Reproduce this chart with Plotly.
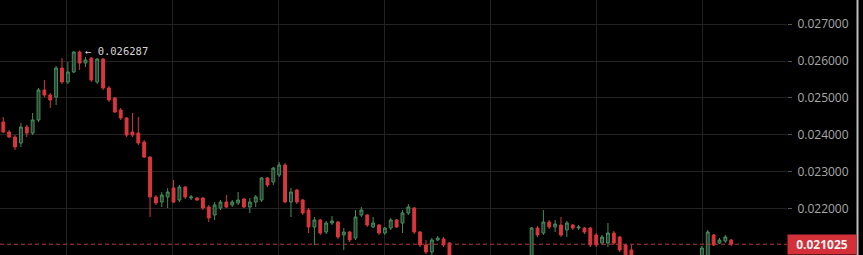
import plotly.graph_objects as go

# Candle OHLC values (None = candle lies below the visible area)
opens = [0.024345, 0.024074, 0.023938, 0.023775, 0.024210, 0.024046, 0.024400, 0.025215, 0.025079, 0.025024,
         0.025812, 0.025432, 0.025704, 0.026247, 0.025948, 0.026084, 0.025432, 0.026057, 0.025269, 0.024997,
         0.024671, 0.024454, 0.024074, 0.024046, 0.023802, 0.023394, 0.022308, 0.022172, 0.022308, 0.022552,
         0.022226, 0.022579, 0.022280, 0.022280, 0.022280, 0.022036, 0.021818, 0.022009, 0.022172, 0.022090,
         0.022145, 0.022253, 0.022036, 0.022172, 0.022226, 0.022824, 0.022715, 0.022905, 0.023177, 0.022172,
         0.022498, 0.022226, 0.021954, 0.021493, 0.021683, 0.021357, 0.021601, 0.021628, 0.021275, 0.021357,
         0.021194, 0.021818, 0.021818, 0.021493, 0.021547, 0.021330, 0.021465, 0.021683, 0.021601, 0.021873,
         0.022009, 0.021357, 0.021004, 0.020813, 0.021139, 0.021167, 0.021058,
         None, None, None, None, None, None, None, None, None, None, None, None, None,
         0.020541, 0.021465, 0.021330, 0.021628, 0.021493, 0.021547, 0.021411, 0.021547, 0.021465, 0.021465,
         0.021465, 0.021275, 0.021058, 0.021058, 0.021330, 0.021221, 0.021004, 0.020868,
         None, None, None, None, None, None, None, None, None, None, None,
         0.020460, 0.020704, 0.021275, 0.021058, 0.021112, 0.021139]
highs = [0.024481, 0.024128, 0.023992, 0.024318, 0.024264, 0.024590, 0.025269, 0.025486, 0.025133, 0.025867,
         0.026084, 0.025975, 0.026270, 0.026287, 0.026111, 0.026100, 0.026084, 0.026084, 0.025323, 0.025024,
         0.024726, 0.024481, 0.024590, 0.024481, 0.023856, 0.023410, 0.022362, 0.022443, 0.022552, 0.022769,
         0.022634, 0.022606, 0.022362, 0.022308, 0.022308, 0.022090, 0.022172, 0.022226, 0.022362, 0.022226,
         0.022443, 0.022280, 0.022280, 0.022362, 0.022851, 0.022851, 0.023123, 0.023259, 0.023231, 0.022552,
         0.022525, 0.022253, 0.022009, 0.021764, 0.021710, 0.021656, 0.021791, 0.021656, 0.021465, 0.021384,
         0.021954, 0.022036, 0.021846, 0.021764, 0.021574, 0.021493, 0.021737, 0.021710, 0.021954, 0.022117,
         0.022036, 0.021384, 0.021139, 0.021194, 0.021248, 0.021221, 0.021085,
         None, None, None, None, None, None, None, None, None, None, None, None, None,
         0.021493, 0.021520, 0.021954, 0.021683, 0.021683, 0.021764, 0.021656, 0.021574, 0.021547, 0.021493,
         0.021493, 0.021330, 0.021275, 0.021601, 0.021384, 0.021248, 0.021031, 0.021004,
         None, None, None, None, None, None, None, None, None, None, None,
         0.020976, 0.021411, 0.021302, 0.021194, 0.021275, 0.021167]
lows = [0.024046, 0.023910, 0.023585, 0.023666, 0.023938, 0.023992, 0.024345, 0.025024, 0.024726, 0.024807,
        0.025378, 0.025378, 0.025677, 0.025758, 0.025840, 0.025432, 0.025378, 0.025215, 0.024889, 0.024590,
        0.024400, 0.023938, 0.023938, 0.023720, 0.023367, 0.021764, 0.022090, 0.022036, 0.022009, 0.022145,
        0.022172, 0.022253, 0.022226, 0.022199, 0.021954, 0.021628, 0.021683, 0.021954, 0.022009, 0.022036,
        0.022090, 0.022009, 0.021873, 0.022036, 0.022172, 0.022579, 0.022634, 0.022851, 0.022145, 0.021764,
        0.022117, 0.021818, 0.021330, 0.021004, 0.021275, 0.021302, 0.021547, 0.021167, 0.020868, 0.021085,
        0.021139, 0.021764, 0.021493, 0.021465, 0.021275, 0.021275, 0.021411, 0.021465, 0.021330, 0.021818,
        0.021302, 0.020949, 0.020759, 0.020732, 0.021112, 0.020949, 0.020541,
        None, None, None, None, None, None, None, None, None, None, None, None, None,
        0.020460, 0.021221, 0.021275, 0.021438, 0.021357, 0.021221, 0.021221, 0.021411, 0.021411, 0.021302,
        0.020949, 0.020949, 0.021004, 0.020949, 0.021004, 0.020813, 0.020596, 0.020378,
        None, None, None, None, None, None, None, None, None, None, None,
        0.020378, 0.020650, 0.020976, 0.021031, 0.021058, 0.020976]
closes = [0.024074, 0.023938, 0.023666, 0.024210, 0.024046, 0.024400, 0.025215, 0.025079, 0.024943, 0.025812,
          0.025432, 0.025704, 0.026247, 0.025948, 0.026030, 0.025486, 0.026057, 0.025269, 0.024943, 0.024617,
          0.024454, 0.023992, 0.023992, 0.023775, 0.023394, 0.022308, 0.022145, 0.022362, 0.022443, 0.022172,
          0.022579, 0.022308, 0.022308, 0.022226, 0.022009, 0.021737, 0.022090, 0.022172, 0.022036, 0.022172,
          0.022226, 0.022036, 0.022172, 0.022308, 0.022824, 0.022634, 0.023096, 0.023177, 0.022172, 0.022443,
          0.022172, 0.021873, 0.021493, 0.021683, 0.021330, 0.021601, 0.021656, 0.021221, 0.021357, 0.021139,
          0.021764, 0.021954, 0.021547, 0.021601, 0.021330, 0.021465, 0.021683, 0.021493, 0.021873, 0.022036,
          0.021357, 0.021004, 0.020813, 0.021139, 0.021194, 0.021004, 0.020650,
          None, None, None, None, None, None, None, None, None, None, None, None, None,
          0.021465, 0.021275, 0.021628, 0.021493, 0.021574, 0.021275, 0.021601, 0.021465, 0.021493, 0.021357,
          0.021004, 0.021004, 0.021221, 0.021330, 0.021058, 0.020868, 0.020650, 0.020460,
          None, None, None, None, None, None, None, None, None, None, None,
          0.020922, 0.021357, 0.021004, 0.021139, 0.021221, 0.021025]

candle_index = list(range(len(opens)))
last_price = 0.021025
peak_price = 0.026287
peak_candle = 13
y_ticks = [0.022, 0.023, 0.024, 0.025, 0.026, 0.027]

RED = "#d8373c"
GREEN_LINE = "#43905c"
GREEN_FILL = "#283f2f"

fig = go.Figure()
fig.add_trace(go.Candlestick(
    x=candle_index, open=opens, high=highs, low=lows, close=closes,
    increasing=dict(line=dict(color=GREEN_LINE, width=1), fillcolor=GREEN_FILL),
    decreasing=dict(line=dict(color=RED, width=1), fillcolor=RED),
    whiskerwidth=0, showlegend=False, hoverinfo="skip",
))

plot_w = 787
fig.update_layout(
    width=863, height=255,
    margin=dict(l=0, r=863 - plot_w, t=0, b=0),
    paper_bgcolor="#000000", plot_bgcolor="#000000",
    showlegend=False,
    xaxis=dict(
        range=[-0.56, 133.5], rangeslider=dict(visible=False),
        showticklabels=False, ticks="", zeroline=False,
        showgrid=True, gridcolor="#232323", gridwidth=1,
        tick0=10.85, dtick=18.05, tickmode="linear", showline=False,
    ),
    yaxis=dict(
        side="right", range=[0.020732, 0.02766],
        tickvals=y_ticks, tickformat=".6f",
        showgrid=True, gridcolor="#232323", gridwidth=1, zeroline=False,
        ticks="outside", ticklen=4, tickcolor="#555555",
        tickfont=dict(family="Open Sans", size=12, color="#a8a8a8"),
        ticklabelstandoff=3, showline=False,
    ),
)

# current price dashed line
fig.add_shape(type="line", xref="paper", x0=0, x1=1, yref="y", y0=last_price, y1=last_price,
              line=dict(color="#b8383c", width=1, dash="4px,3px"))
# right border of the price panel (thin light strip)
fig.add_annotation(xref="paper", x=1 + 70 / plot_w, yref="paper", y=0.5, xanchor="center", yanchor="middle",
                   text=" ", showarrow=False, bgcolor="#bdbdbd", width=1, height=270, borderpad=0,
                   font=dict(size=1))
# price label
fig.add_annotation(xref="paper", x=1, yref="y", y=last_price, xanchor="left", yanchor="middle",
                   text=f"<b>{last_price:.6f}</b>", showarrow=False, bgcolor="#d3303a",
                   width=66, height=17, borderpad=1, xshift=0, align="center",
                   font=dict(family="Open Sans", size=12, color="#f2f2f2"))
# peak marker
fig.add_annotation(x=peak_candle, y=peak_price, xref="x", yref="y", xanchor="left", yanchor="middle",
                   text=f"\u2190 {peak_price:.6f}", showarrow=False, xshift=3,
                   font=dict(family="DejaVu Sans Mono", size=10.5, color="#d6d6d6"))

fig.write_html("out.html")
